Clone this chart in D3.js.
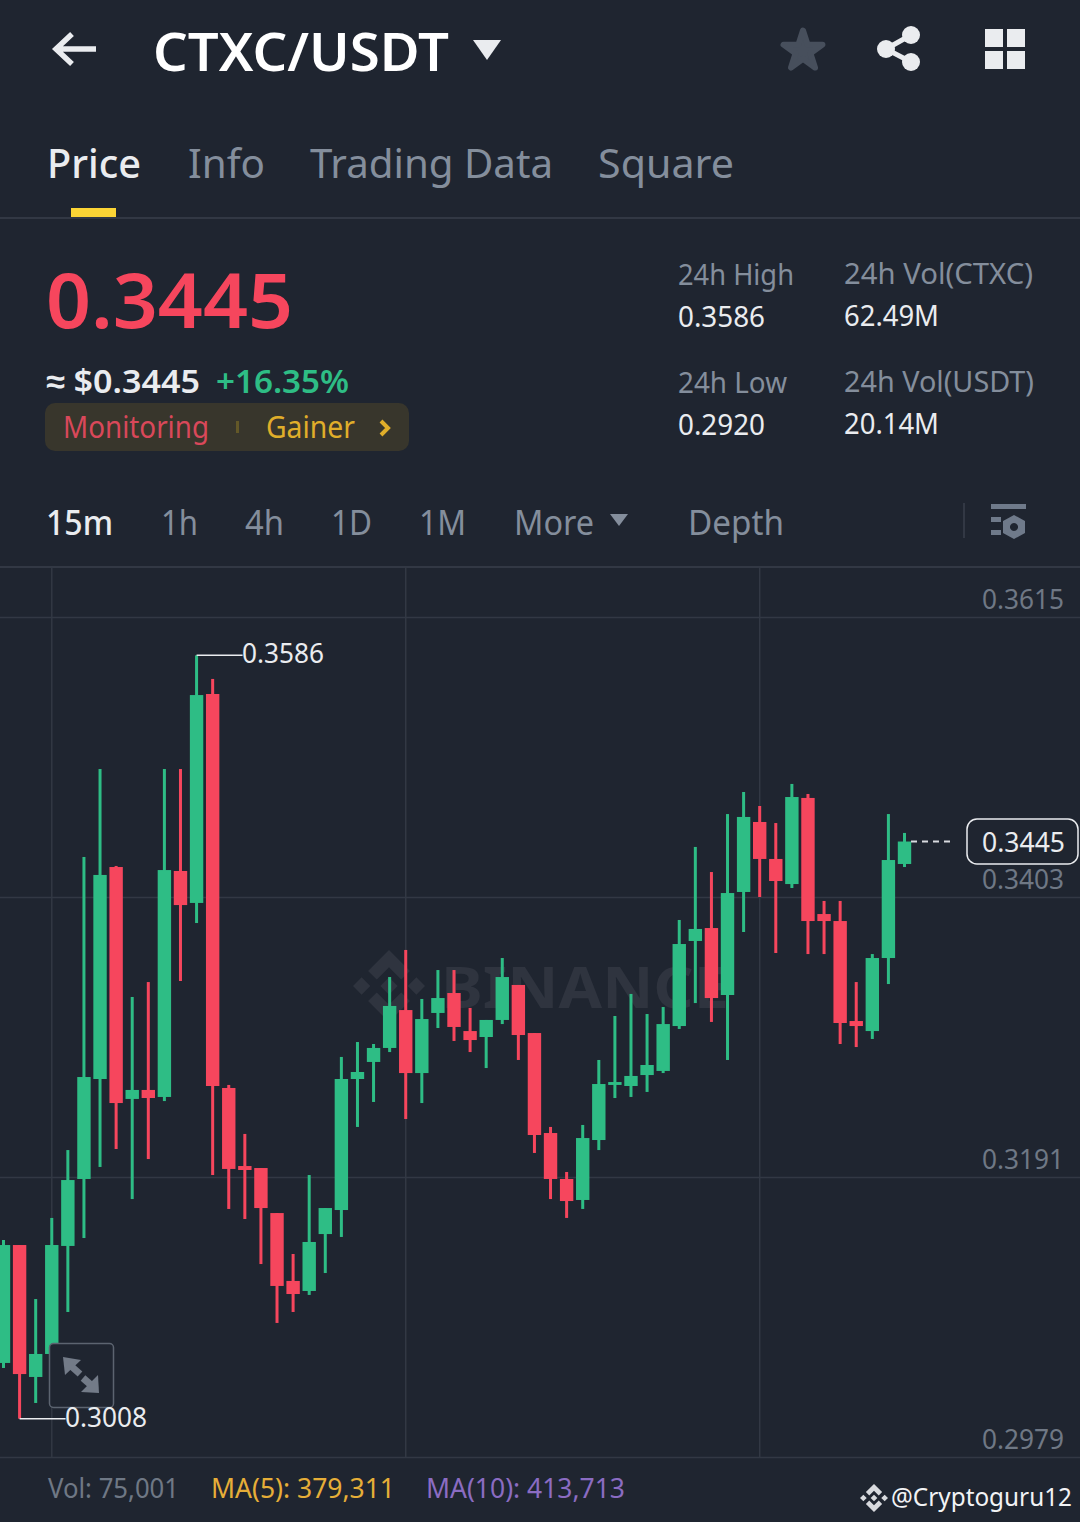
<!DOCTYPE html>
<html>
<head>
<meta charset="utf-8">
<script src="https://cdnjs.cloudflare.com/ajax/libs/d3/7.8.5/d3.min.js"></script>
<style>
html,body{margin:0;padding:0;background:#1f2530;}
svg{display:block;}
text{font-family:"Noto Sans",sans-serif;}
</style>
</head>
<body>
<svg id="chart" width="1080" height="1522"></svg>
<script>
// candles, oldest first
var opens = [0.30502,0.31395,0.30396,0.30570,0.31388,0.31895,0.32652,0.34257,0.32501,0.32569,0.32516,0.34227,0.33985,0.35567,0.32584,0.31993,0.31978,0.31637,0.31123,0.31047,0.31478,0.31660,0.32652,0.32781,0.32887,0.33174,0.32697,0.33152,0.33303,0.33015,0.32970,0.33099,0.33364,0.33000,0.32243,0.31895,0.31736,0.32190,0.32607,0.32599,0.32682,0.32713,0.33053,0.33697,0.33795,0.33288,0.34068,0.34598,0.34318,0.34128,0.34780,0.33901,0.33848,0.33091,0.33015,0.33568,0.34280];
var highs = [0.31433,0.31395,0.30986,0.31600,0.32114,0.34333,0.34999,0.34265,0.33273,0.33386,0.34999,0.34999,0.35860,0.35681,0.32607,0.32236,0.31978,0.31637,0.31327,0.31925,0.31675,0.32819,0.32932,0.32917,0.33424,0.33629,0.33258,0.33477,0.33477,0.33190,0.33099,0.33568,0.33364,0.33000,0.32289,0.31948,0.32304,0.32796,0.33129,0.33296,0.33144,0.33197,0.33856,0.34409,0.34219,0.34658,0.34825,0.34719,0.34590,0.34886,0.34810,0.34000,0.34000,0.33386,0.33598,0.34658,0.34515];
var lows = [0.30464,0.30080,0.30199,0.30570,0.30888,0.31448,0.31986,0.32122,0.31743,0.32046,0.32485,0.33394,0.33833,0.31925,0.31668,0.31592,0.31251,0.30805,0.30888,0.31017,0.31183,0.31456,0.32289,0.32478,0.32856,0.32349,0.32470,0.33038,0.32940,0.32856,0.32735,0.33068,0.32796,0.32092,0.31743,0.31600,0.31668,0.32114,0.32508,0.32516,0.32554,0.32697,0.33031,0.33227,0.33084,0.32796,0.33765,0.34030,0.33606,0.34098,0.33598,0.33598,0.32917,0.32894,0.32955,0.33371,0.34257];
var closes = [0.31395,0.30418,0.30570,0.31395,0.31887,0.32667,0.34197,0.32470,0.32569,0.32508,0.34234,0.33969,0.35559,0.32599,0.31971,0.31963,0.31675,0.31085,0.31024,0.31418,0.31675,0.32652,0.32705,0.32887,0.33205,0.32697,0.33106,0.33265,0.33046,0.32947,0.33099,0.33424,0.32985,0.32228,0.31895,0.31728,0.32205,0.32614,0.32629,0.32675,0.32758,0.33068,0.33674,0.33788,0.33265,0.34060,0.34636,0.34318,0.34151,0.34787,0.33848,0.33848,0.33076,0.33053,0.33568,0.34310,0.34450];
var priceTicks = [0.3615,0.3403,0.3191,0.2979];
var gridIndexes = [3,25,47];
var lastPrice = 0.3445, highPrice = 0.3586, lowPrice = 0.3008;
var highIndex = 12, lowIndex = 1;

var topTabs = [["Price",47,94,"#eaecef",500],["Info",188,77,"#848e9c",400],["Trading Data",310,243,"#848e9c",400],["Square",598,136,"#848e9c",400]];
var intervals = [["15m",46,67,"#eaecef",500],["1h",161,37,"#848e9c",400],["4h",245,39,"#848e9c",400],["1D",331,41,"#848e9c",400],["1M",419,47,"#848e9c",400],["More",514,80,"#848e9c",400],["Depth",688,96,"#848e9c",400]];
var stats = [["24h High",678,285,116,"#848e9c"],["0.3586",678,327,87,"#eaecef"],["24h Vol(CTXC)",844,284,189,"#848e9c"],["62.49M",844,326,95,"#eaecef"],["24h Low",678,393,109,"#848e9c"],["0.2920",678,435,87,"#eaecef"],["24h Vol(USDT)",844,392,190,"#848e9c"],["20.14M",844,434,95,"#eaecef"]];

var bg = "#1f2530", green = "#2ebd85", red = "#f6465d", grid = "#323844", axisText = "#6f7885";
var svg = d3.select("#chart");

function label(t, x, y, size, fill, weight, width, parent){
	var s = (parent || svg).append("text")
		.attr("x", x).attr("y", y)
		.attr("font-size", size)
		.attr("font-weight", weight || 400)
		.attr("fill", fill)
		.text(t);
	if(width){
		s.attr("textLength", width).attr("lengthAdjust", "spacingAndGlyphs");
	}
	return s;
}

function binanceLogo(parent, cx, cy, r, fill){
	var g = parent.append("g").attr("transform", "translate("+cx+","+cy+") scale("+r+")").attr("fill", fill);
	g.append("path").attr("d", "M0,-1L.58,-.42L.34,-.18L0,-.52L-.34,-.18L-.58,-.42Z");
	g.append("path").attr("d", "M0,1L.58,.42L.34,.18L0,.52L-.34,.18L-.58,.42Z");
	g.append("path").attr("d", "M0,-.24L.24,0L0,.24L-.24,0Z");
	g.append("path").attr("d", "M-.76,-.24L-.52,0L-.76,.24L-1,0Z");
	g.append("path").attr("d", "M.76,-.24L1,0L.76,.24L.52,0Z");
}

svg.append("rect").attr("width", 1080).attr("height", 1522).attr("fill", bg);

// header
svg.append("path").attr("d", "M96,49H57M72,34L56,49L72,64").attr("fill", "none").attr("stroke", "#eaecef").attr("stroke-width", 5.5);
label("CTXC/USDT", 153, 71, 52, "#ffffff", 600, 296);
svg.append("path").attr("d", "M473,40H501L487,60Z").attr("fill", "#eaecef");
svg.append("path").attr("d", d3.symbol().type(d3.symbolStar).size(470)()).attr("transform", "translate(803,51)").attr("fill", "#474f5c").attr("stroke", "#474f5c").attr("stroke-width", 6).attr("stroke-linejoin", "round");
svg.append("path").attr("d", "M911,35L886,49L911,62").attr("fill", "none").attr("stroke", "#eaecef").attr("stroke-width", 5);
[[911,35],[886,49],[911,62]].forEach(function(p){
	svg.append("circle").attr("cx", p[0]).attr("cy", p[1]).attr("r", 9).attr("fill", "#eaecef");
});
[[985,29],[1007,29],[985,51],[1007,51]].forEach(function(p){
	svg.append("rect").attr("x", p[0]).attr("y", p[1]).attr("width", 18).attr("height", 18).attr("fill", "#eaecef");
});

topTabs.forEach(function(t){
	label(t[0], t[1], 178, 40, t[3], t[4], t[2]);
});
svg.append("rect").attr("x", 71).attr("y", 208).attr("width", 45).attr("height", 9).attr("fill", "#fcd535");
svg.append("rect").attr("x", 0).attr("y", 217).attr("width", 1080).attr("height", 2).attr("fill", grid);

// price block
label("0.3445", 46, 328, 76, red, 600, 247);
label("≈ $0.3445", 46, 393, 33, "#eaecef", 600, 154);
label("+16.35%", 216, 393, 33, green, 600, 133);
svg.append("rect").attr("x", 45).attr("y", 403).attr("width", 364).attr("height", 48).attr("rx", 10).attr("fill", "#38362c");
label("Monitoring", 63, 438, 31, "#d9485a", 400, 146);
svg.append("rect").attr("x", 236).attr("y", 421).attr("width", 3).attr("height", 12).attr("fill", "#635828");
label("Gainer", 266, 438, 31, "#e0ae2a", 400, 89);
svg.append("path").attr("d", "M381,421L388,428L381,435").attr("fill", "none").attr("stroke", "#e0ae2a").attr("stroke-width", 4);

stats.forEach(function(s){
	label(s[0], s[1], s[2], 29, s[4], 400, s[3]);
});

// interval bar
intervals.forEach(function(t){
	label(t[0], t[1], 535, 34, t[3], t[4], t[2]);
});
svg.append("path").attr("d", "M610,514H628L619,526Z").attr("fill", "#848e9c");
svg.append("rect").attr("x", 963).attr("y", 503).attr("width", 2).attr("height", 35).attr("fill", "#323844");
var icon = svg.append("g").attr("fill", "#6f7a8a");
icon.append("rect").attr("x", 991).attr("y", 504).attr("width", 35).attr("height", 5);
icon.append("rect").attr("x", 991).attr("y", 517).attr("width", 10).attr("height", 5);
icon.append("rect").attr("x", 991).attr("y", 530).attr("width", 10).attr("height", 5);
icon.append("path").attr("fill-rule", "evenodd").attr("d", "M1014,515L1025,521V533L1014,539L1003,533V521ZM1014,523a4,4 0 1,0 .01,0Z");

// chart
var x = d3.scaleLinear().domain([0, 56]).range([3.5, 904.5]);
var y = d3.scaleLinear().domain([0.2979, 0.3615]).range([1457, 617]);
var barW = 13.4;

svg.append("rect").attr("x", 0).attr("y", 566).attr("width", 1080).attr("height", 2).attr("fill", grid);
svg.selectAll(".vgrid").data(gridIndexes).enter().append("line")
	.attr("x1", function(d){ return x(d); }).attr("x2", function(d){ return x(d); })
	.attr("y1", 567).attr("y2", 1457)
	.attr("stroke", grid).attr("stroke-width", 1.5);

var yAxis = d3.axisLeft(y).tickValues(priceTicks).tickSize(1080).tickFormat(d3.format(".4f"));
var axisG = svg.append("g").attr("transform", "translate(1080,0)").call(yAxis);
axisG.select(".domain").remove();
axisG.selectAll("line").attr("stroke", grid).attr("stroke-width", 1.5);
axisG.selectAll("text")
	.attr("x", -16).attr("dy", 0).attr("y", -9)
	.attr("text-anchor", "end")
	.attr("font-size", 28)
	.attr("font-family", '"Noto Sans",sans-serif')
	.attr("textLength", 82).attr("lengthAdjust", "spacingAndGlyphs")
	.attr("fill", axisText);

// watermark
binanceLogo(svg, 389, 986, 36, "#2f343f");
label("BINANCE", 441, 1008, 57, "#2f343f", 700, 288);

var candles = d3.range(opens.length).map(function(i){
	return {i:i, o:opens[i], h:highs[i], l:lows[i], c:closes[i]};
});
function col(d){ return d.c >= d.o ? green : red; }
var cg = svg.selectAll(".candle").data(candles).enter().append("g").attr("class", "candle");
cg.append("rect")
	.attr("x", function(d){ return x(d.i) - 1.5; })
	.attr("width", 3)
	.attr("y", function(d){ return y(d.h); })
	.attr("height", function(d){ return y(d.l) - y(d.h); })
	.attr("fill", col);
cg.append("rect")
	.attr("x", function(d){ return x(d.i) - barW/2; })
	.attr("width", barW)
	.attr("y", function(d){ return y(Math.max(d.o, d.c)); })
	.attr("height", function(d){ return Math.max(2, Math.abs(y(d.o) - y(d.c))); })
	.attr("fill", col);

// high and low markers
var hx = x(highIndex), lx = x(lowIndex);
svg.append("path").attr("d", "M"+hx+","+y(highPrice)+"H"+(hx+46)).attr("stroke", "#eaecef").attr("stroke-width", 1.5).attr("fill", "none");
label(d3.format(".4f")(highPrice), 242, y(highPrice)+8, 28, "#eaecef", 400, 82);
svg.append("path").attr("d", "M"+lx+","+y(lowPrice)+"H"+(lx+46)).attr("stroke", "#eaecef").attr("stroke-width", 1.5).attr("fill", "none");

// expand button
svg.append("rect").attr("x", 49.5).attr("y", 1343.5).attr("width", 64).attr("height", 64).attr("rx", 4).attr("fill", bg).attr("stroke", "#5c6470").attr("stroke-width", 1.5);
var expand = svg.append("g").attr("fill", "#737b88");
expand.append("path").attr("d", "M63,1357L81,1360L65,1375Z");
expand.append("path").attr("d", "M99,1393L81,1392L98,1375Z");
expand.append("path").attr("d", "M71,1366L80,1374").attr("stroke", "#737b88").attr("stroke-width", 7);
expand.append("path").attr("d", "M83,1378L91,1385").attr("stroke", "#737b88").attr("stroke-width", 7);
label(d3.format(".4f")(lowPrice), 65, y(lowPrice)+8, 28, "#eaecef", 400, 82);

// last price tag
svg.append("line").attr("x1", 911).attr("x2", 955).attr("y1", y(lastPrice)).attr("y2", y(lastPrice))
	.attr("stroke", "#d8dade").attr("stroke-width", 2).attr("stroke-dasharray", "6,5");
svg.append("rect").attr("x", 967).attr("y", 819).attr("width", 111).attr("height", 45).attr("rx", 10).attr("fill", bg).attr("stroke", "#eaecef").attr("stroke-width", 1.5);
label(d3.format(".4f")(lastPrice), 982, 852, 28, "#eaecef", 400, 83);

// volume legend
label("Vol: 75,001", 48, 1498, 28, "#6f7885", 400, 131);
label("MA(5): 379,311", 211, 1498, 28, "#e6ae38", 400, 184);
label("MA(10): 413,713", 426, 1498, 28, "#8b6cc2", 400, 199);

binanceLogo(svg, 874, 1498, 14, "#d8dade");
label("@Cryptoguru12", 891, 1506, 25.5, "#f2f3f5", 400, 181);
</script>
</body>
</html>
